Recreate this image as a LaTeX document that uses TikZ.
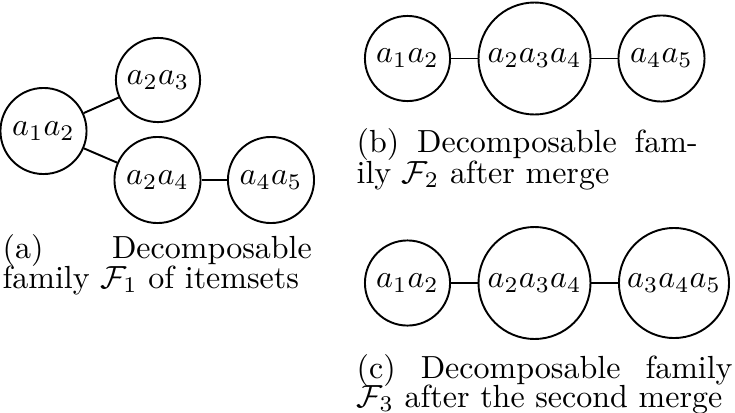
\documentclass[tikz,border=0pt]{standalone}
\begin{document}
\begin{tikzpicture}[x=0.3125pt,y=-0.3125pt,
  setnode/.style={circle,draw,line width=0.6pt,inner sep=0pt,minimum size=#1},
  link/.style={line width=0.6pt},
  capline/.style={anchor=base west,inner sep=0pt}]
\useasboundingbox (0,0) rectangle (735,412);
% (a)
\node[setnode=26.9pt] (a12) at (43.5,131) {$a_1a_2$};
\node[setnode=26.3pt] (a23) at (158,80) {$a_2a_3$};
\node[setnode=26.9pt] (a24) at (157.5,180) {$a_2a_4$};
\node[setnode=26.9pt] (a45) at (271,180) {$a_4a_5$};
\draw[link] (a12) -- (a23);
\draw[link] (a12) -- (a24);
\draw[link] (a24) -- (a45);
\node[capline] (capa1) at (2,258) {\makebox[96.6pt][s]{(a) Decomposable}};
\node[capline] (capa2) at (2,288) {family $\mathcal{F}_1$ of itemsets};
% (b)
\node[setnode=26.6pt] (b12) at (407.5,58.5) {$a_1a_2$};
\node[setnode=35pt] (b234) at (534.5,58.5) {$a_2a_3a_4$};
\node[setnode=26.9pt] (b45) at (661.5,58.5) {$a_4a_5$};
\draw[link] (b12) -- (b234);
\draw[link] (b234) -- (b45);
\node[capline] (capb1) at (356,152) {\makebox[106.6pt][s]{(b) Decomposable fam-}};
\node[capline] (capb2) at (356,183) {ily $\mathcal{F}_2$ after merge};
% (c)
\node[setnode=26.6pt] (c12) at (407.5,283) {$a_1a_2$};
\node[setnode=35pt] (c234) at (534.5,283) {$a_2a_3a_4$};
\node[setnode=34.4pt] (c345) at (674,283) {$a_3a_4a_5$};
\draw[link] (c12) -- (c234);
\draw[link] (c234) -- (c345);
\node[capline] (capc1) at (356,378) {\makebox[117.5pt][s]{(c) Decomposable family}};
\node[capline] (capc2) at (356,407) {$\mathcal{F}_3$ after the second merge};
\end{tikzpicture}
\end{document}
